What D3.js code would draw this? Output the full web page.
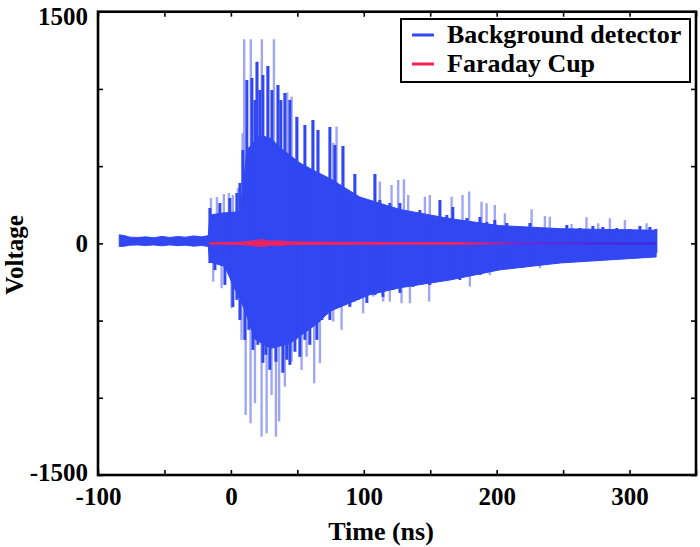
<!DOCTYPE html>
<html><head><meta charset="utf-8">
<script src="https://cdn.jsdelivr.net/npm/d3@7"></script>
<style>
html,body{margin:0;padding:0;background:#fff;}
svg text{font-family:"Liberation Serif","Times New Roman",serif;font-weight:bold;fill:#000;}
</style></head>
<body><svg id="c" width="700" height="547"></svg>
<script>
// ---- data ----
const xTicks = [-100,-50,0,50,100,150,200,250,300,350];
const xTickLabels = ["-100","","0","","100","","200","","300",""];
const yTicks = [-1500,-1000,-500,0,500,1000,1500];
const yTickLabels = ["-1500","","","0","","","1500"];
const seriesNames = ["Background detector","Faraday Cup"];

// Background detector: fully filled band (upper / lower edge)
const solidTopT = [-84,-80,-76,-70,-64,-58,-52,-46,-40,-34,-28,-22,-17,-15.8,-6,6.8,9,12,21.8,30,37,52,65,74.5,97,127,165,202,248,320];
const solidTopV = [55,50,40,38,42,36,45,38,44,40,48,42,50,183,197,204,346,604,700,680,620,520,460,420,300,220,160,115,95,85];
const solidBotT = [-84,-80,-76,-70,-64,-58,-52,-46,-40,-34,-28,-22,-17,-15.8,-4.5,1.5,10.5,18,30,44,55,65,74.5,104,127,165,202,248,320];
const solidBotV = [-20,-18,-12,-10,-14,-10,-16,-10,-15,-12,-18,-14,-20,-120,-150,-269,-431,-620,-680,-650,-580,-520,-440,-334,-288,-237,-172,-127,-88];

// Background detector: dense dark oscillation peaks (positive / negative)
const darkTopT = [-15.8,-8.3,-0.8,4.5,6.8,9.0,12.0,15.8,18.1,19.6,21.8,24.1,27.8,30.9,35.4,37.6,40.6,44.4,49.7,55.7,61.7,65.5,74.5,78.3,84.3,93.3,108.4,112.1,119.6,121.9,127.2,137,142.2,149.7,157.3,162.5,167,172.3,177.6,182.1,187.4,192.6,198.6,202.4,207.7,217.5,225,232.5,242.3,252.8,262.6,272.4,279.9,290.4,300.2,307.8,315.3,319.8];
const darkTopV = [229,262,294,326,391,605,1058,1071,928,1174,993,1090,1148,993,1025,928,974,928,818,766,799,734,754,637,631,449,449,281,262,184,262,203,216,152,281,184,236,139,164,132,171,139,152,113,132,106,132,100,100,119,100,113,106,100,93,113,106,93];
const darkBotT = [-15.8,-12,-8.3,-4.5,-0.8,1.5,4.5,6.8,10.5,13.5,16.6,20.3,24.1,26.3,29.3,33.9,39.1,42.1,44.4,48.2,51.9,55.7,59.4,64.7,68.5,74.5,82,89.5,95.6,102.3,108.4,114.4,121.9,127.2,137,142.2,149.7,162.5,172.3,182.1,187.4,198.6,212.2,225,237.8,251.3,262.6,276.1,287.4,300.2,311.5,319.8];
const darkBotV = [-128,-173,-120,-269,-205,-412,-366,-496,-625,-560,-690,-657,-774,-722,-819,-767,-838,-754,-787,-702,-735,-625,-657,-625,-496,-496,-398,-411,-366,-386,-334,-347,-302,-321,-282,-250,-269,-224,-237,-192,-205,-172,-153,-140,-120,-107,-94,-88,-75,-69,-62,-62];

// Background detector: isolated tall spikes (time, peak value)
const spikeT = [-15,-10.5,-5.3,-1.5,1.5,5.3,8.8,10.0,15.0,19.8,23.3,28.1,32.4,35.6,42.4,45.7,49.4,61.9,65.7,77,79.5,84.5,93.3,108.4,112.1,120.9,125.9,130.2,133.4,146,149.7,166.1,174.3,179.3,188.6,192.4,198.6,206.2,226.3,236.3,240,256.4,267.6,276.4,285.2,296.5,312.8,
  -13.3,-7,0.5,8,11.1,14.8,18.1,23.1,26.9,30.6,33.9,36.3,40.6,45.7,49.4,53.2,57,62.7,67,72,77,79.5,83.3,93.3,99.5,107.1,114.6,119.6,128.4,134.7,149.2,157.3,179.8,194.9,219.9,232.5,262.6,287.7,317.8];
const spikeV = [294,300,320,326,313,359,713,1322,1322,1177,1322,1149,1322,1026,976,950,820,799,734,652,756,631,449,449,400,378,411,415,313,302,313,302,313,335,270,260,249,195,221,177,173,126,169,130,163,152,130,
  -248,-291,-420,-625,-1111,-1165,-1035,-1252,-1230,-982,-1252,-1154,-928,-766,-625,-820,-734,-906,-776,-464,-507,-366,-560,-377,-453,-345,-377,-377,-388,-388,-377,-237,-280,-205,-161,-161,-107,-86,-64];

// Faraday Cup trace (small band around zero)
const farT  = [-16,-5,5,12,18,22,26,30,36,45,60,80,120,160,200,250,320];
const farUp = [6,8,10,15,22,28,25,18,20,14,12,10,9,8,8,7,7];
const farLo = [-6,-8,-10,-14,-20,-26,-22,-16,-18,-12,-10,-9,-8,-8,-7,-7,-7];

// ---- drawing ----
const svg = d3.select("#c");
const L=98, R=696, T=11.7, B=475;
const x = d3.scaleLinear().domain([-100,350]).range([L,R]);
const y = d3.scaleLinear().domain([-1500,1500]).range([B,T]);
const blue="#3047f2", pale="#8e98f3", red="#ff1f52";

const defs = svg.append("defs");
defs.append("clipPath").attr("id","clip").append("rect").attr("x",L).attr("y",T).attr("width",R-L).attr("height",B-T);
const grad = defs.append("linearGradient").attr("id","farGrad").attr("gradientUnits","userSpaceOnUse")
  .attr("x1",x(-16)).attr("x2",x(320)).attr("y1",0).attr("y2",0);
grad.append("stop").attr("offset","0%").attr("stop-color",red);
grad.append("stop").attr("offset","55%").attr("stop-color",red);
grad.append("stop").attr("offset","70%").attr("stop-color","#6a2ad8");
grad.append("stop").attr("offset","100%").attr("stop-color","#3a2ae0");

const g = svg.append("g").attr("clip-path","url(#clip)");

function spikes(cls, ts, vs, color, w, op){
  g.selectAll("line."+cls).data(ts.map((t,i)=>({t,v:vs[i]}))).enter().append("line")
    .attr("class",cls)
    .attr("x1",d=>x(d.t)).attr("x2",d=>x(d.t))
    .attr("y1",y(0)).attr("y2",d=>y(d.v))
    .attr("stroke",color).attr("stroke-width",w).attr("stroke-opacity",op);
}

// pale tall spikes (behind)
spikes("spk", spikeT, spikeV, pale, 2.4, 0.85);

// filled band
const topPts = solidTopT.map((t,i)=>[x(t),y(solidTopV[i])]);
const botPts = solidBotT.map((t,i)=>[x(t),y(solidBotV[i])]).reverse();
g.append("path").attr("d", d3.line()(topPts.concat(botPts))+"Z").attr("fill",blue).attr("stroke",blue).attr("stroke-width",1);

// dark oscillation peaks
spikes("dkt", darkTopT, darkTopV, blue, 3, 1);
spikes("dkb", darkBotT, darkBotV, blue, 3, 1);

// Faraday band
const farArea = d3.area().x((d,i)=>x(farT[i])).y0((d,i)=>y(farLo[i])).y1((d,i)=>y(farUp[i]));
g.append("path").attr("d",farArea(farT)).attr("fill","url(#farGrad)").attr("fill-opacity",0.75);
g.append("path").attr("d",d3.line().x((d,i)=>x(farT[i])).y(()=>y(0))(farT))
  .attr("stroke","url(#farGrad)").attr("stroke-width",2.2).attr("fill","none");

// axes (ticks inward, all four sides)
const fmtX = d => xTickLabels[xTicks.indexOf(d)];
const fmtY = d => yTickLabels[yTicks.indexOf(d)];
const ax = svg.append("g").attr("transform",`translate(0,${B})`)
  .call(d3.axisBottom(x).tickValues(xTicks).tickSize(-5).tickPadding(12).tickFormat(fmtX));
const axT = svg.append("g").attr("transform",`translate(0,${T})`)
  .call(d3.axisTop(x).tickValues(xTicks).tickSize(-5).tickFormat(""));
const ay = svg.append("g").attr("transform",`translate(${L},0)`)
  .call(d3.axisLeft(y).tickValues(yTicks).tickSize(-5).tickPadding(10).tickFormat(fmtY));
const ayR = svg.append("g").attr("transform",`translate(${R},0)`)
  .call(d3.axisRight(y).tickValues(yTicks).tickSize(-5).tickFormat(""));
[ax,axT,ay,ayR].forEach(a=>{
  a.select(".domain").remove();
  a.selectAll(".tick line").attr("stroke","#000").attr("stroke-width",1.6);
  a.selectAll("text").style("font-size","25px").style("font-weight","bold")
   .style("font-family","'Liberation Serif','Times New Roman',serif").attr("fill","#000");
});
ax.selectAll("text").attr("dy","0.71em");
ay.selectAll(".tick text").filter(d=>d===1500).attr("dy","0.5em");
ay.selectAll(".tick text").filter(d=>d===-1500).attr("dy","0.2em");

// frame
svg.append("rect").attr("x",L).attr("y",T).attr("width",R-L).attr("height",B-T)
  .attr("fill","none").attr("stroke","#000").attr("stroke-width",2.6);

// axis titles
svg.append("text").attr("x",381).attr("y",540).attr("text-anchor","middle").style("font-size","26px").text("Time (ns)");
svg.append("text").attr("transform","translate(23,255) rotate(-90)").attr("text-anchor","middle").style("font-size","25px").text("Voltage");

// legend
const lg = svg.append("g");
lg.append("rect").attr("x",401).attr("y",19).attr("width",289).attr("height",63)
  .attr("fill","#fff").attr("stroke","#000").attr("stroke-width",2);
const legColors=[blue,red];
seriesNames.forEach((n,i)=>{
  const yy = 35 + i*29;
  lg.append("line").attr("x1",412).attr("x2",434).attr("y1",yy).attr("y2",yy).attr("stroke",legColors[i]).attr("stroke-width",3);
  lg.append("text").attr("x",447).attr("y",yy+8).style("font-size","26px").text(n);
});
</script></body></html>
